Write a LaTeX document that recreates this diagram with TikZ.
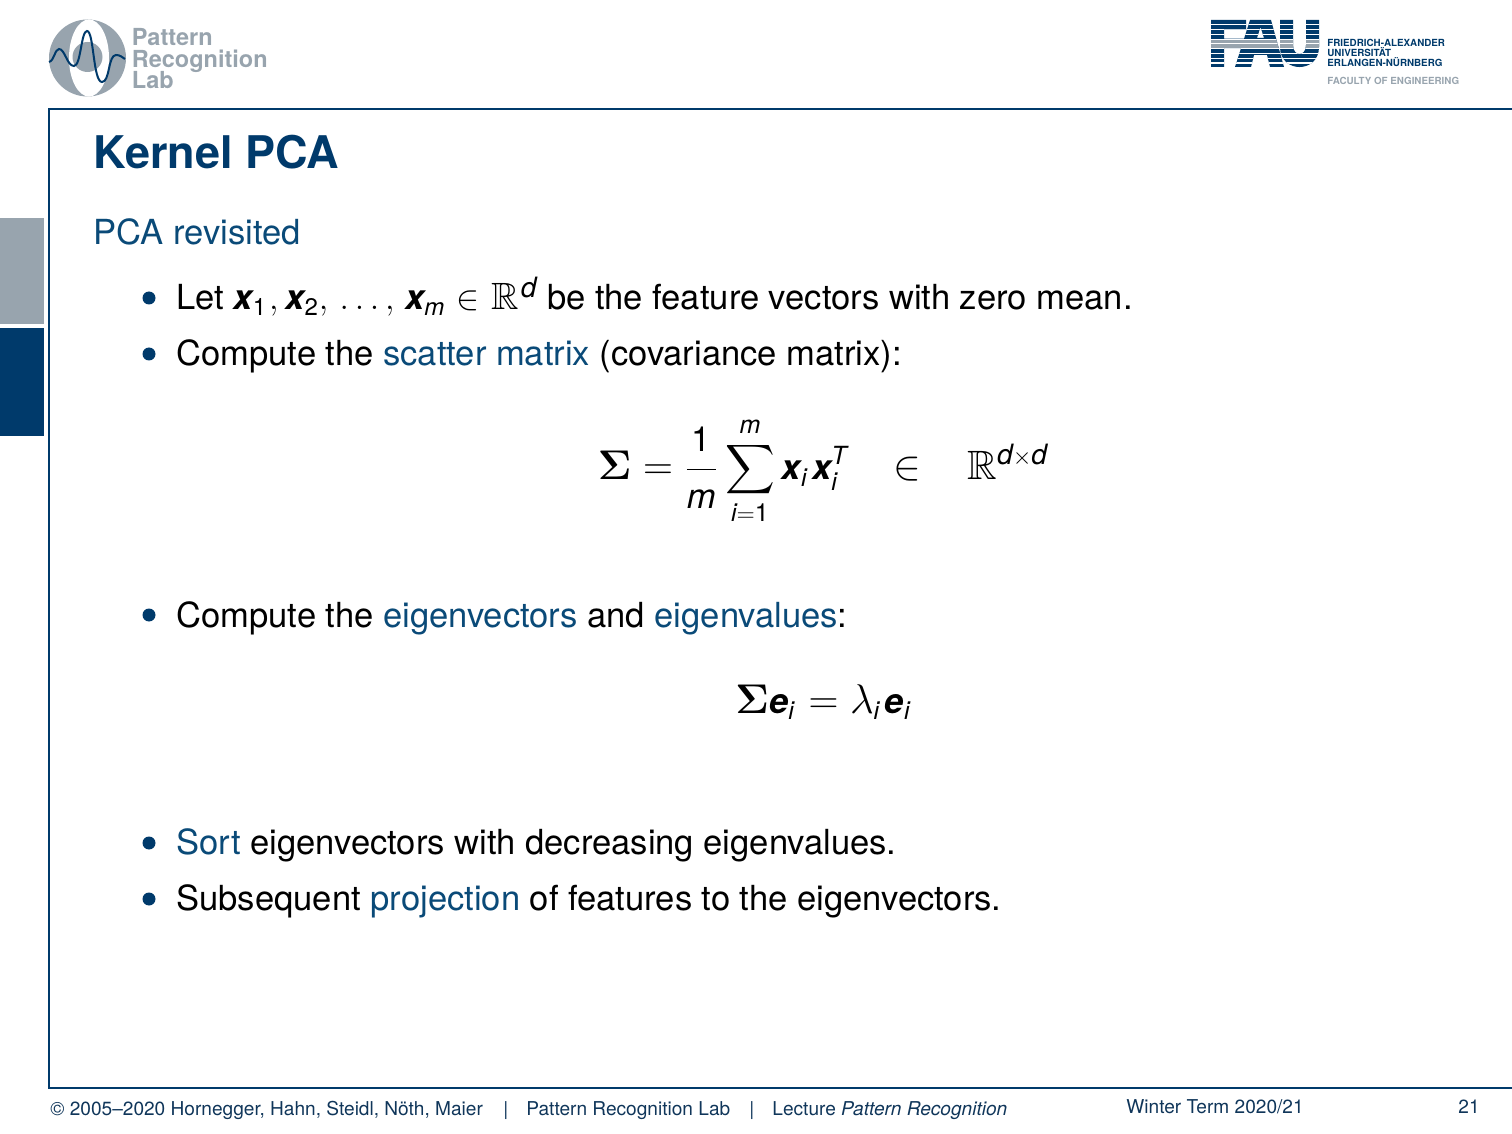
\documentclass[tikz,border=0pt]{standalone}
\usepackage{amsmath, amssymb, graphicx}
\usepackage{fontspec}
\setmainfont{TeX Gyre Heros}
\usetikzlibrary{positioning}
\DeclareMathSizes{17.28}{19}{12}{10}
\DeclareMathSizes{17.3}{20.5}{12.5}{10}
\definecolor{faublue}{HTML}{003A6B}
\definecolor{faugray}{HTML}{98A4AE}
\definecolor{linkblue}{HTML}{0A4A78}
\definecolor{footblue}{HTML}{10365A}
\newcommand{\hl}[1]{\textcolor{linkblue}{#1}}
\newcommand{\ivar}[1]{\text{\itshape #1}}
\newcommand{\bvar}[1]{\text{\bfseries\itshape #1}}
\newcommand{\supvar}[1]{\text{\fontsize{14}{14}\selectfont\itshape #1}}
\newcommand{\bigsum}{\mathop{\vcenter{\hbox{\scalebox{0.84}{$\displaystyle\sum$}}}}\limits}
\tikzset{
  body/.style={anchor=base west, inner sep=0pt, font=\fontsize{17.28}{20}\selectfont},
  formula/.style={anchor=base, inner sep=0pt, font=\fontsize{17.3}{20}\selectfont},
  foot/.style={anchor=base west, inner sep=0pt, text=footblue, font=\fontsize{9.55}{11}\selectfont},
  logotext/.style={anchor=base west, inner sep=0pt, text=faugray, font=\fontsize{11.75}{13}\selectfont\bfseries},
  fautext/.style={anchor=base west, inner sep=0pt, font=\fontsize{4.9}{6}\selectfont\bfseries},
  bullet/.style={circle, fill=faublue, inner sep=0pt, minimum size=6.5pt},
}
\begin{document}
\begin{tikzpicture}[x=0.5pt, y=-0.5pt]
  \useasboundingbox (0,0) rectangle (1512,1134);

  % Frame and side bar
  \draw[faublue, line width=1pt] (1512,109) -- (49,109) -- (49,1088) -- (1512,1088);
  \fill[faugray] (0,218) rectangle (44,324);
  \fill[faublue] (0,328) rectangle (44,436);

  % Lab logo
  \fill[faugray] (87.5,58) circle [radius=38.5];
  \fill[white] (89,58) ellipse [x radius=20, y radius=38.5];
  \fill[faugray] (87.5,57) circle [radius=15];
  \draw[faublue, line width=1pt] (49,62) .. controls (54,61) and (55,49) .. (59,49)
    .. controls (65,49) and (67,66) .. (74,66) .. controls (81,66) and (81,31) .. (87,31)
    .. controls (94,31) and (93,82) .. (102,82) .. controls (110,82) and (108,55) .. (116,55)
    .. controls (120,55) and (122,57) .. (125,59);
  \node[logotext] (labA) at (131.5,46) {Pattern};
  \node[logotext] (labB) at (131.5,68) {Recognition};
  \node[logotext] (labC) at (131.5,89) {Lab};

  % University logo
  \begin{scope}
    \clip (1211,20) -- (1246,20) -- (1246,29.5) -- (1224,29.5) -- (1224,38.7) -- (1246,38.7) -- (1246,48.2) -- (1224,48.2) -- (1224,67) -- (1211,67) -- cycle
      (1235,67) -- (1250,20) -- (1271,20) -- (1284,67) -- (1270,67) -- (1267,55) -- (1254,55) -- (1251,67) -- cycle
      (1257,38) -- (1264,38) -- (1260.5,27) -- cycle
      (1280,20) -- (1293,20) -- (1293,45) .. controls (1293,57) and (1306,57) .. (1306,45) -- (1306,20) -- (1319,20) -- (1319,47) .. controls (1319,73.7) and (1280,73.7) .. (1280,47) -- cycle;
    \fill[faublue] (1205,14) rectangle (1325,70);
    \fill[faugray] (1205,38.7) rectangle (1325,48.2);
    \foreach \i in {1,...,9} {
      \fill[white] (1205,19.4+4.78*\i) rectangle (1325,20.6+4.78*\i);
    }
  \end{scope}
  \node[fautext, text=faublue] (fauA) at (1327,47) {FRIEDRICH-ALEXANDER};
  \node[fautext, text=faublue] (fauB) at (1327,57) {UNIVERSITÄT};
  \node[fautext, text=faublue] (fauC) at (1327,67) {ERLANGEN-NÜRNBERG};
  \node[fautext, text=faugray] (fauD) at (1327,85) {FACULTY OF ENGINEERING};

  % Title
  \node[anchor=base west, inner sep=0pt, text=faublue, font=\fontsize{22.5}{28}\selectfont\bfseries] (title) at (93.5,169) {Kernel PCA};
  \node[body, text=linkblue] (section) at (93.5,245) {PCA revisited};

  % Items
  \foreach \y in {298,354,615,843,899} {
    \node[bullet] at (149,\y) {};
  }
  \node[body] (itemA) at (176,310) {Let $\bvar{x}_{\text{1}}\mspace{1mu},\mspace{0.5mu}\bvar{x}_{\text{2}},\mspace{3mu}\dots,\mspace{2.5mu}\bvar{x}_{\ivar{m}}\mspace{1mu}\in\mspace{1mu}\mathbb{R}^{\mspace{1.5mu}\supvar{d}}$ be the feature vectors with zero mean.};
  \node[body] (itemB) at (176,366) {Compute the \hl{scatter matrix} (covariance matrix):};
  \node[body] (itemC) at (176,627) {Compute the \hl{eigenvectors} and \hl{eigenvalues}:};
  \node[body] (itemD) at (176,854.5) {\hl{Sort} eigenvectors with decreasing eigenvalues.};
  \node[body] (itemE) at (176,910.5) {Subsequent \hl{projection} of features to the eigenvectors.};

  % Formulas
  \node[formula] (scatter) at (823,480) {$\boldsymbol{\Sigma}=\dfrac{\text{1}}{\ivar{m}}\bigsum_{\ivar{i}=\text{1}}^{\ivar{m}}\bvar{x}_{\ivar{i}}\mspace{2mu}\bvar{x}_{\ivar{i}}^{\ivar{T}}\quad\in\quad\mathbb{R}^{\supvar{d}\times\supvar{d}}$};
  \node[formula] (eigen) at (823,713) {$\boldsymbol{\Sigma}\bvar{e}_{\ivar{i}}\mspace{1mu}=\lambda_{\ivar{i}}\mspace{2mu}\bvar{e}_{\ivar{i}}$};

  % Footer
  \node[foot] (copy) at (50,1115) {© 2005–2020 Hornegger, Hahn, Steidl, Nöth, Maier};
  \node[foot] (sepA) at (503,1115) {|};
  \node[foot] (lab) at (526,1115) {Pattern Recognition Lab};
  \node[foot] (sepB) at (749,1115) {|};
  \node[foot] (lecture) at (772,1115) {Lecture \textit{Pattern Recognition}};
  \node[foot] (term) at (1126,1113) {Winter Term 2020/21};
  \node[foot] (page) at (1458,1113) {21};
\end{tikzpicture}
\end{document}
